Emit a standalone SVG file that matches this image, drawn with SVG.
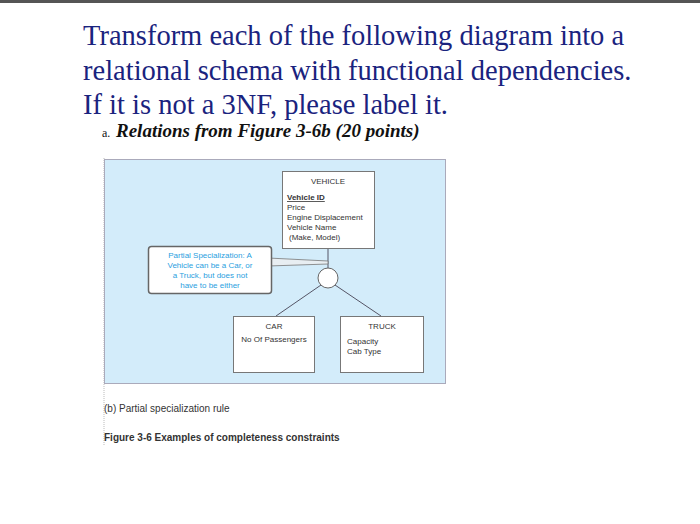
<svg xmlns="http://www.w3.org/2000/svg" width="700" height="524" viewBox="0 0 700 524">
<style>
.t{font-family:"Liberation Serif",serif;font-size:28.5px;fill:#1a237e}
.s{font-family:"Liberation Sans",sans-serif;font-size:8px;fill:#333}
.box{fill:#fff;stroke:#777;stroke-width:1}
.ln{stroke:#556;stroke-width:1;fill:none}
</style>
<rect width="700" height="524" fill="#fff"/>
<line x1="0" y1="1.5" x2="700" y2="1.5" stroke="#555" stroke-width="3"/>
<text class="t" x="83" y="45">Transform each of the following diagram into a</text>
<text class="t" x="83" y="80">relational schema with functional dependencies.</text>
<text class="t" x="83" y="114">If it is not a 3NF, please label it.</text>
<text x="102" y="137" font-family="Liberation Serif,serif" font-size="12" fill="#111">a.</text>
<text x="116" y="137" font-family="Liberation Serif,serif" font-size="19" font-style="italic" font-weight="bold" fill="#111">Relations from Figure 3-6b (20 points)</text>
<line x1="104" y1="158" x2="104" y2="445" stroke="#bbb" stroke-dasharray="1,1"/>
<rect x="104.5" y="159.5" width="341" height="224" fill="#d3ecfa" stroke="#aab"/>
<g id="connectors">
<line class="ln" x1="328" y1="248" x2="328" y2="268" stroke-width="2"/>
<line class="ln" x1="321" y1="285" x2="276" y2="316"/>
<line class="ln" x1="335" y1="285" x2="381" y2="316"/>
<polygon points="268,258 328,261 328,264 268,266" fill="#e8eef2" stroke="#777" stroke-width="0.8"/>
</g>
<g id="vehicle">
<rect class="box" x="282.5" y="171.5" width="92" height="77"/>
<text class="s" x="328" y="184" text-anchor="middle">VEHICLE</text>
<text class="s" x="287" y="200" font-weight="bold" text-decoration="underline">Vehicle ID</text>
<text class="s" x="287" y="210">Price</text>
<text class="s" x="287" y="220">Engine Displacement</text>
<text class="s" x="287" y="230">Vehicle Name</text>
<text class="s" x="289" y="240">(Make, Model)</text>
</g>
<g id="circle"><circle cx="328" cy="278" r="10" fill="#fff" stroke="#666"/></g>
<g id="callout">
<rect x="148.5" y="246.5" width="123" height="47" rx="3" fill="#fff" stroke="#666" stroke-width="1.5"/>
<g font-family="Liberation Sans,sans-serif" font-size="8" fill="#2aa0e0" text-anchor="middle">
<text x="210" y="258">Partial Specialization: A</text>
<text x="210" y="268">Vehicle can be a Car, or</text>
<text x="210" y="278">a Truck, but does not</text>
<text x="210" y="288">have to be either</text>
</g>
</g>
<g id="car">
<rect class="box" x="233.5" y="316.5" width="81" height="56"/>
<text class="s" x="274" y="329" text-anchor="middle">CAR</text>
<text class="s" x="274" y="342" text-anchor="middle">No Of Passengers</text>
</g>
<g id="truck">
<rect class="box" x="340.5" y="316.5" width="83" height="56"/>
<text class="s" x="382" y="329" text-anchor="middle">TRUCK</text>
<text class="s" x="347" y="344">Capacity</text>
<text class="s" x="347" y="354">Cab Type</text>
</g>
<text x="104" y="412" font-family="Liberation Sans,sans-serif" font-size="10" fill="#333">(b) Partial specialization rule</text>
<text x="104" y="441" font-family="Liberation Sans,sans-serif" font-size="10" font-weight="bold" fill="#333">Figure 3-6 Examples of completeness constraints</text>
</svg>
